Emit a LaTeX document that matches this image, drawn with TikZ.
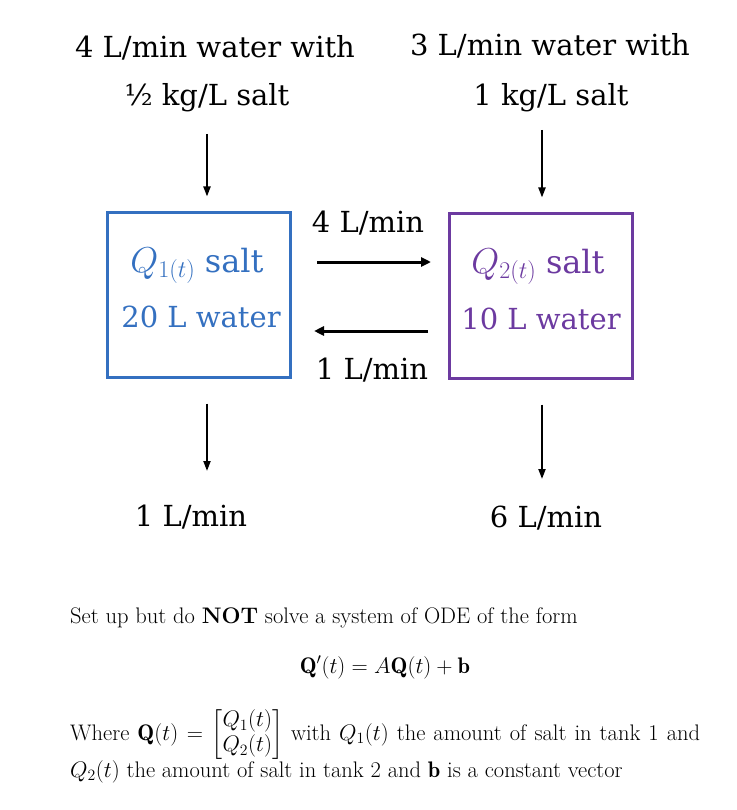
\RequirePackage{fix-cm}
\documentclass[tikz,border=0pt]{standalone}
\usepackage{amsmath}
\usepackage{fontspec}
\newfontfamily\djs{DejaVu Serif}
\usetikzlibrary{arrows.meta}
\definecolor{tankblue}{RGB}{52,112,192}
\definecolor{tankpurple}{RGB}{108,58,160}
\newcommand{\qsub}[1]{{\fontsize{36}{40}\selectfont$Q$}\raisebox{-5pt}{\fontsize{24}{26}\selectfont$#1(t)$}}
\begin{document}
\begin{tikzpicture}[x=1pt,y=-1pt,
  lbl/.style={font=\djs\fontsize{29}{34}\selectfont, inner sep=0pt, anchor=base},
  qlbl/.style={font=\djs\fontsize{32}{38}\selectfont, inner sep=0pt, anchor=base},
  tank/.style={line width=3pt, minimum width=183pt, minimum height=164pt, inner sep=0pt},
  varr/.style={line width=2pt, -{Triangle[length=10pt,width=7pt]}},
  harr/.style={line width=3pt, -{Triangle[length=10pt,width=9pt]}},
  txt/.style={font=\fontsize{22.5}{27}\selectfont, inner sep=0pt, anchor=base west}]
\useasboundingbox (0,0) rectangle (736,810);
% top labels
\node[lbl] (in1a) at (215,58) {4 L/min water with};
\node[lbl] (in1b) at (207,106) {½ kg/L salt};
\node[lbl] (in2a) at (550,56) {3 L/min water with};
\node[lbl] (in2b) at (551,106) {1 kg/L salt};
% tanks
\node[tank, draw=tankblue] (t1) at (198.5,295) {};
\node[tank, draw=tankpurple] (t2) at (541,296) {};
\node[qlbl, text=tankblue] (q1) at (197,272) {\qsub{1} salt};
\node[lbl, text=tankblue] (w1) at (201,327) {20 L water};
\node[qlbl, text=tankpurple] (q2) at (538,273) {\qsub{2} salt};
\node[lbl, text=tankpurple] (w2) at (541,329) {10 L water};
% middle
\node[lbl] (f12) at (368,233) {4 L/min};
\node[lbl] (f21) at (372,379) {1 L/min};
\coordinate (a1s) at (317,262);
\coordinate (a1e) at (431,262);
\coordinate (a2s) at (428,331);
\coordinate (a2e) at (314,331);
\draw[harr] (a1s) -- (a1e);
\draw[harr] (a2s) -- (a2e);
% vertical arrows
\coordinate (d1s) at (207,134);
\coordinate (d2s) at (542,130);
\draw[varr] (d1s) -- ([yshift=15pt]t1.north -| d1s);
\draw[varr] (d2s) -- ([yshift=15pt]t2.north -| d2s);
\coordinate (o1e) at (207,471);
\coordinate (o2e) at (542,479);
\draw[varr] ([yshift=-25pt]t1.south -| o1e) -- (o1e);
\draw[varr] ([yshift=-25pt]t2.south -| o2e) -- (o2e);
\node[lbl] (out1) at (191,526) {1 L/min};
\node[lbl] (out2) at (546,527) {6 L/min};
% text
\node[txt] (l1) at (70,623) {Set up but do \textbf{NOT} solve a system of ODE of the form};
\node[txt, anchor=base] (eq) at (385,673) {$\mathbf{Q}'(t)=A\mathbf{Q}(t)+\mathbf{b}$};
\node[txt] (l3) at (70,740) {\renewcommand{\arraystretch}{0.92}\makebox[630pt][s]{Where $\mathbf{Q}(t)=\begin{bmatrix}Q_1(t)\\Q_2(t)\end{bmatrix}$ with $Q_1(t)$ the amount of salt in tank 1 and}};
\node[txt] (l4) at (70,777) {$Q_2(t)$ the amount of salt in tank 2 and $\mathbf{b}$ is a constant vector};
\end{tikzpicture}
\end{document}
